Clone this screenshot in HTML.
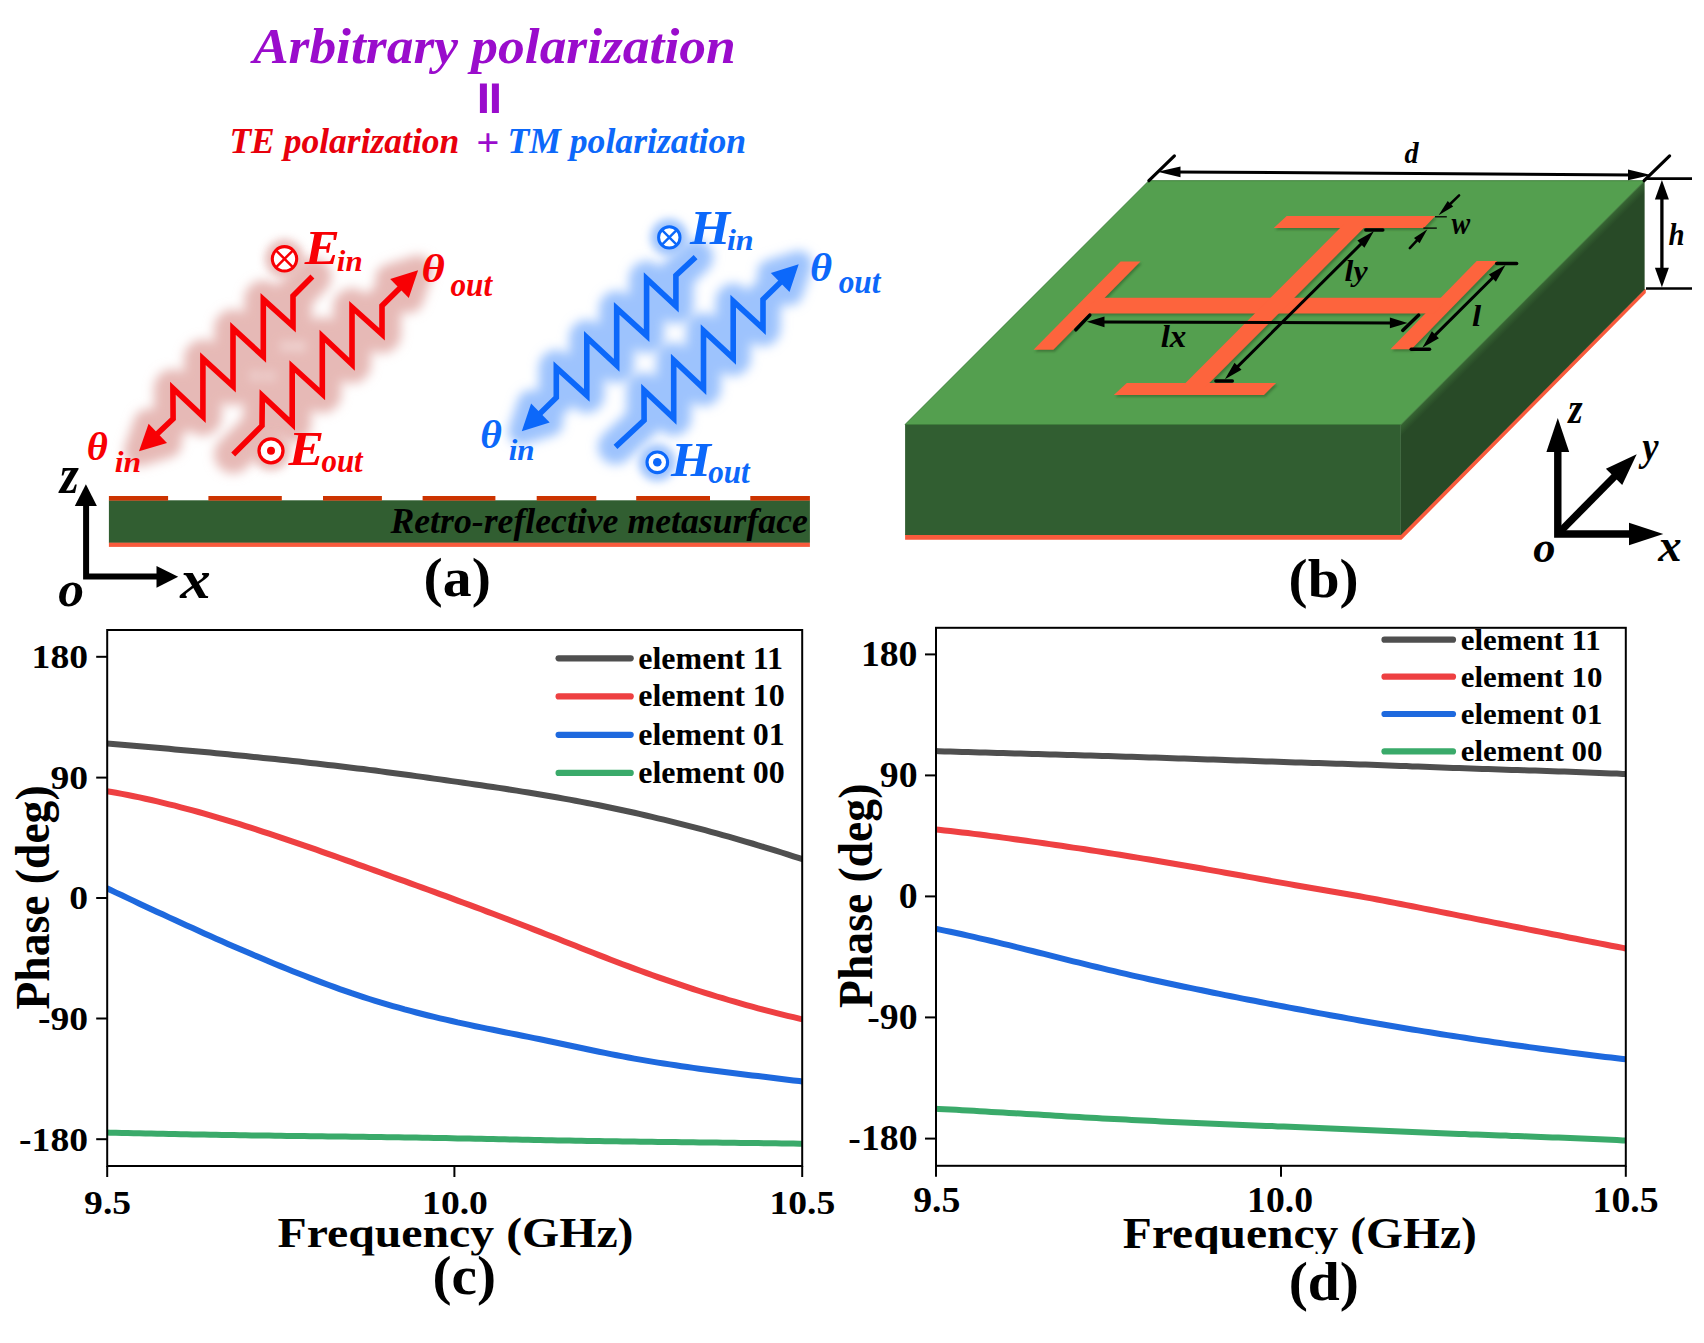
<!DOCTYPE html>
<html lang="en"><head><meta charset="utf-8"><title>Retro-reflective metasurface figure</title>
<style>
html,body{margin:0;padding:0;background:#fff;}
body{width:1704px;height:1343px;overflow:hidden;}
svg{display:block;}
svg text{font-family:"Liberation Serif", "Times New Roman", serif;}
</style></head><body>
<svg width="1704" height="1343" viewBox="0 0 1704 1343">
<defs>
<filter id="glow" x="-25%" y="-25%" width="150%" height="150%"><feGaussianBlur stdDeviation="5.5"/></filter>
<filter id="glow2" x="-60%" y="-60%" width="220%" height="220%"><feGaussianBlur stdDeviation="4.5"/></filter>
<filter id="shadow" x="-10%" y="-10%" width="120%" height="120%"><feGaussianBlur stdDeviation="1.2"/></filter>
<linearGradient id="rface" gradientUnits="userSpaceOnUse" x1="1512.7" y1="312.7" x2="1518.7" y2="318.7"><stop offset="0" stop-color="#376633"/><stop offset="1" stop-color="#284a27"/></linearGradient>
<clipPath id="clipc"><rect x="107.2" y="630" width="695" height="536"/></clipPath>
<clipPath id="clipd"><rect x="936" y="628" width="689.8" height="537.5"/></clipPath>
<clipPath id="clipxl"><rect x="0" y="1150" width="1704" height="105.6"/></clipPath>
<clipPath id="clipxl2"><rect x="0" y="1150" width="1704" height="104"/></clipPath>
</defs>
<rect width="1704" height="1343" fill="#fff"/>

<g id="panel-a">
<text transform="translate(252.91,63.20) scale(1.0414,1)" font-size="51.36" font-weight="bold" font-style="italic" fill="#9a0ccc" >Arbitrary polarization</text>
<rect x="479.9" y="83.5" width="7" height="29.5" fill="#9a0ccc"/><rect x="491.9" y="83.5" width="7" height="29.5" fill="#9a0ccc"/>
<text transform="translate(229.42,152.80) scale(1.0162,1)" font-size="34.96" font-weight="bold" font-style="italic" fill="#e8000c" >TE polarization</text>
<text transform="translate(476.15,155.59) scale(1.0000,1)" font-size="40.86" font-weight="bold" font-style="normal" fill="#9a0ccc" >+</text>
<text transform="translate(507.41,152.80) scale(1.0201,1)" font-size="34.96" font-weight="bold" font-style="italic" fill="#0c68fa" >TM polarization</text>
<g filter="url(#glow)" opacity="1" stroke="#e6b9b6" fill="#e6b9b6"><polyline points="312.4,276.6 293.0,296.0 293.0,326.3 263.3,299.4 263.3,356.4 233.0,328.5 233.0,386.2 202.9,358.6 202.9,416.6 172.9,388.2 173.1,418.7 156.3,434.7" fill="none" stroke-width="38" stroke-linejoin="round" stroke-linecap="round"/><polygon points="139.0,451.3 148.6,423.7 167.0,442.9" stroke-width="30" stroke-linejoin="round"/><polyline points="233.2,454.4 262.0,425.7 262.3,395.7 292.2,423.9 292.2,366.5 322.3,394.0 322.3,336.3 352.0,364.3 352.0,307.2 382.0,334.3 382.0,305.7 401.0,287.1" fill="none" stroke-width="38" stroke-linejoin="round" stroke-linecap="round"/><polygon points="418.1,270.3 408.8,298.0 390.2,279.0" stroke-width="30" stroke-linejoin="round"/></g>
<g filter="url(#glow)" opacity="1" stroke="#9dc3fd" fill="#9dc3fd"><polyline points="695.6,257.1 675.9,275.4 675.9,306.1 646.6,278.6 646.6,335.6 616.7,308.4 616.7,365.2 586.8,337.4 586.8,395.4 556.3,367.6 556.3,397.6 539.0,414.5" fill="none" stroke-width="35" stroke-linejoin="round" stroke-linecap="round"/><polygon points="521.8,431.2 531.1,403.5 549.7,422.6" stroke-width="27" stroke-linejoin="round"/><polyline points="615.5,446.9 644.1,420.4 644.0,390.3 673.7,418.3 673.7,360.2 703.5,388.4 703.5,330.6 733.2,358.4 733.2,301.1 763.0,328.6 763.0,299.5 781.6,281.2" fill="none" stroke-width="35" stroke-linejoin="round" stroke-linecap="round"/><polygon points="798.7,264.3 789.5,292.0 770.8,273.1" stroke-width="27" stroke-linejoin="round"/></g>
<circle cx="284.5" cy="258.85" r="19.5" fill="#e6b9b6" opacity="0.95" filter="url(#glow2)"/>
<circle cx="271.1" cy="451" r="19.5" fill="#e6b9b6" opacity="0.95" filter="url(#glow2)"/>
<circle cx="669.1" cy="237.4" r="18.5" fill="#9dc3fd" opacity="1" filter="url(#glow2)"/>
<circle cx="657.2" cy="462.6" r="18.5" fill="#9dc3fd" opacity="1" filter="url(#glow2)"/>
<polyline points="312.4,276.6 293.0,296.0 293.0,326.3 263.3,299.4 263.3,356.4 233.0,328.5 233.0,386.2 202.9,358.6 202.9,416.6 172.9,388.2 173.1,418.7 156.3,434.7" fill="none" stroke="#f80004" stroke-width="5.6" stroke-linejoin="miter" stroke-miterlimit="10"/><polygon points="139.0,451.3 148.6,423.7 167.0,442.9" fill="#f80004"/>
<polyline points="233.2,454.4 262.0,425.7 262.3,395.7 292.2,423.9 292.2,366.5 322.3,394.0 322.3,336.3 352.0,364.3 352.0,307.2 382.0,334.3 382.0,305.7 401.0,287.1" fill="none" stroke="#f80004" stroke-width="5.6" stroke-linejoin="miter" stroke-miterlimit="10"/><polygon points="418.1,270.3 408.8,298.0 390.2,279.0" fill="#f80004"/>
<polyline points="695.6,257.1 675.9,275.4 675.9,306.1 646.6,278.6 646.6,335.6 616.7,308.4 616.7,365.2 586.8,337.4 586.8,395.4 556.3,367.6 556.3,397.6 539.0,414.5" fill="none" stroke="#0c68fa" stroke-width="5.6" stroke-linejoin="miter" stroke-miterlimit="10"/><polygon points="521.8,431.2 531.1,403.5 549.7,422.6" fill="#0c68fa"/>
<polyline points="615.5,446.9 644.1,420.4 644.0,390.3 673.7,418.3 673.7,360.2 703.5,388.4 703.5,330.6 733.2,358.4 733.2,301.1 763.0,328.6 763.0,299.5 781.6,281.2" fill="none" stroke="#0c68fa" stroke-width="5.6" stroke-linejoin="miter" stroke-miterlimit="10"/><polygon points="798.7,264.3 789.5,292.0 770.8,273.1" fill="#0c68fa"/>
<circle cx="284.5" cy="258.85" r="12.2" fill="#fff" stroke="#f80004" stroke-width="3.1"/><path d="M276.0,250.3 L293.0,267.4 M276.0,267.4 L293.0,250.3" stroke="#f80004" stroke-width="2.5" fill="none"/>
<circle cx="271.0" cy="450.8" r="12.0" fill="#fff" stroke="#f80004" stroke-width="3.3"/><circle cx="271.0" cy="450.8" r="4.0" fill="#f80004"/>
<circle cx="669.3" cy="237.4" r="10.7" fill="#fff" stroke="#0c68fa" stroke-width="3.0"/><path d="M661.8,229.9 L676.8,244.9 M661.8,244.9 L676.8,229.9" stroke="#0c68fa" stroke-width="2.4" fill="none"/>
<circle cx="657.3" cy="462.3" r="10.3" fill="#fff" stroke="#0c68fa" stroke-width="3.1"/><circle cx="657.3" cy="462.3" r="4.3" fill="#0c68fa"/>
<text transform="translate(304.79,264.20) scale(1.0654,1)" font-size="49.31" font-weight="bold" font-style="italic" fill="#f80004" >E</text>
<text transform="translate(336.83,270.50) scale(1.0382,1)" font-size="29.78" font-weight="bold" font-style="italic" fill="#f80004" >in</text>
<text transform="translate(421.61,282.49) scale(1.1004,1)" font-size="40.85" font-weight="bold" font-style="italic" fill="#f80004" >θ</text>
<text transform="translate(450.43,295.77) scale(0.9495,1)" font-size="32.87" font-weight="bold" font-style="italic" fill="#f80004" >out</text>
<text transform="translate(86.78,460.10) scale(1.0197,1)" font-size="39.86" font-weight="bold" font-style="italic" fill="#f80004" >θ</text>
<text transform="translate(114.71,472.30) scale(1.0647,1)" font-size="29.78" font-weight="bold" font-style="italic" fill="#f80004" >in</text>
<text transform="translate(288.50,464.90) scale(1.0949,1)" font-size="48.85" font-weight="bold" font-style="italic" fill="#f80004" >E</text>
<text transform="translate(321.44,471.77) scale(0.9405,1)" font-size="32.87" font-weight="bold" font-style="italic" fill="#f80004" >out</text>
<text transform="translate(689.99,244.20) scale(1.0588,1)" font-size="48.85" font-weight="bold" font-style="italic" fill="#0c68fa" >H</text>
<text transform="translate(726.90,250.00) scale(1.0779,1)" font-size="29.78" font-weight="bold" font-style="italic" fill="#0c68fa" >in</text>
<text transform="translate(810.10,280.50) scale(1.0683,1)" font-size="39.86" font-weight="bold" font-style="italic" fill="#0c68fa" >θ</text>
<text transform="translate(838.63,293.37) scale(0.9518,1)" font-size="32.87" font-weight="bold" font-style="italic" fill="#0c68fa" >out</text>
<text transform="translate(480.34,447.50) scale(1.0430,1)" font-size="40.00" font-weight="bold" font-style="italic" fill="#0c68fa" >θ</text>
<text transform="translate(508.72,460.40) scale(1.0426,1)" font-size="29.78" font-weight="bold" font-style="italic" fill="#0c68fa" >in</text>
<text transform="translate(670.89,476.30) scale(1.0637,1)" font-size="48.40" font-weight="bold" font-style="italic" fill="#0c68fa" >H</text>
<text transform="translate(708.13,483.37) scale(0.9450,1)" font-size="32.87" font-weight="bold" font-style="italic" fill="#0c68fa" >out</text>
<rect x="108.9" y="500.3" width="701" height="42.6" fill="#315e31"/>
<rect x="108.9" y="542.7" width="701" height="4.2" fill="#f85a3c"/>
<rect x="108.9" y="496" width="59.2" height="4.6" fill="#cc3300"/>
<rect x="208.4" y="496" width="73.4" height="4.6" fill="#cc3300"/>
<rect x="323" y="496" width="58.9" height="4.6" fill="#cc3300"/>
<rect x="422.6" y="496" width="72.8" height="4.6" fill="#cc3300"/>
<rect x="536.7" y="496" width="59.6" height="4.6" fill="#cc3300"/>
<rect x="636.2" y="496" width="73.8" height="4.6" fill="#cc3300"/>
<rect x="750.3" y="496" width="59.6" height="4.6" fill="#cc3300"/>
<text transform="translate(390.39,533.00) scale(1.0086,1)" font-size="35.42" font-weight="bold" font-style="italic" fill="#000" >Retro-reflective metasurface</text>
<path d="M86.1,504 L86.1,576.5 L158,576.5" fill="none" stroke="#000" stroke-width="6" stroke-linejoin="miter"/>
<polygon points="85.9,484.2 74.8,506.0 96.9,506.0" fill="#000"/>
<polygon points="178.2,576.7 156.5,566.0 156.5,587.8" fill="#000"/>
<text transform="translate(59.85,492.50) scale(0.9010,1)" font-size="54.35" font-weight="bold" font-style="italic" fill="#000" >z</text>
<text transform="translate(180.16,597.90) scale(1.0947,1)" font-size="55.65" font-weight="bold" font-style="italic" fill="#000" >x</text>
<text transform="translate(58.33,605.79) scale(1.0142,1)" font-size="50.83" font-weight="bold" font-style="italic" fill="#000" >o</text>
<text transform="translate(423.54,596.43) scale(1.0701,1)" font-size="53.99" font-weight="bold" font-style="normal" fill="#000" >(a)</text>
</g>
<g id="panel-b">
<polygon points="905.1,534.1 1400.9,534.1 1644.6,289.0 1645.8,289.5 1645.8,293.0 1401.5,539.8 905.1,539.8" fill="#f85a3c"/>
<polygon points="905.1,424.5 1400.9,424.5 1400.9,535.1 905.1,535.1" fill="#315e31"/>
<polygon points="1400.9,424.5 1644.6,180.7 1644.6,289.5 1400.9,535.1" fill="url(#rface)"/>
<polygon points="1148.9,180.7 1644.6,180.7 1400.9,424.5 905.1,424.5" fill="#549f4f" stroke="#3f7f3c" stroke-width="1"/>
<g filter="url(#shadow)" opacity="0.55" transform="translate(1.5,2)"><polygon points="1286.7,216.1 1435.2,216.1 1423.9,228.1 1273.7,228.1" fill="#2d5a2a"/><polygon points="1126.8,383.0 1276.1,383.0 1264.0,394.9 1113.8,394.9" fill="#2d5a2a"/><polygon points="1120.6,261.4 1140.5,261.4 1053.4,349.8 1033.5,349.8" fill="#2d5a2a"/><polygon points="1476.7,261.0 1497.4,261.0 1411.4,349.3 1390.4,349.3" fill="#2d5a2a"/><polygon points="1097.5,297.7 1449.1,297.7 1433.8,313.6 1082.3,313.6" fill="#2d5a2a"/><polygon points="1344.1,224.1 1367.8,224.1 1205.3,387.0 1181.5,387.0" fill="#2d5a2a"/></g>
<polygon points="1286.7,216.1 1435.2,216.1 1423.9,228.1 1273.7,228.1" fill="#fd643d"/><polygon points="1126.8,383.0 1276.1,383.0 1264.0,394.9 1113.8,394.9" fill="#fd643d"/><polygon points="1120.6,261.4 1140.5,261.4 1053.4,349.8 1033.5,349.8" fill="#fd643d"/><polygon points="1476.7,261.0 1497.4,261.0 1411.4,349.3 1390.4,349.3" fill="#fd643d"/><polygon points="1097.5,297.7 1449.1,297.7 1433.8,313.6 1082.3,313.6" fill="#fd643d"/><polygon points="1344.1,224.1 1367.8,224.1 1205.3,387.0 1181.5,387.0" fill="#fd643d"/>
<line x1="1148.9" y1="180.7" x2="1174.4" y2="155.9" stroke="#000" stroke-width="3.2" stroke-linecap="round"/>
<line x1="1644.1" y1="180.7" x2="1669.6" y2="155.9" stroke="#000" stroke-width="3.2" stroke-linecap="round"/>
<line x1="1175.9" y1="171.9" x2="1632.6" y2="174.9" stroke="#000" stroke-width="3.0"/><polygon points="1157.5,171.8 1180.5,166.6 1180.5,177.2" fill="#000"/><polygon points="1651.0,175.0 1628.0,180.2 1628.0,169.6" fill="#000"/>
<text transform="translate(1404.55,163.40) scale(0.9334,1)" font-size="30.21" font-weight="bold" font-style="italic" fill="#000" >d</text>
<line x1="1646" y1="178.6" x2="1692" y2="178.6" stroke="#000" stroke-width="2.6" stroke-linecap="butt"/>
<line x1="1646" y1="288.5" x2="1692" y2="288.5" stroke="#000" stroke-width="2.6" stroke-linecap="butt"/>
<line x1="1661.9" y1="195.6" x2="1661.9" y2="271.6" stroke="#000" stroke-width="3.3"/><polygon points="1661.9,180.0 1668.9,199.5 1654.9,199.5" fill="#000"/><polygon points="1661.9,287.2 1654.9,267.7 1668.9,267.7" fill="#000"/>
<text transform="translate(1668.42,245.20) scale(0.9437,1)" font-size="30.65" font-weight="bold" font-style="italic" fill="#000" >h</text>
<line x1="1075.8" y1="329.8" x2="1089.8" y2="315.1" stroke="#000" stroke-width="3.5" stroke-linecap="round"/>
<line x1="1402.7" y1="330.4" x2="1418.7" y2="315.1" stroke="#000" stroke-width="3.5" stroke-linecap="round"/>
<line x1="1101.0" y1="321.9" x2="1393.4" y2="322.9" stroke="#000" stroke-width="3.0"/><polygon points="1086.9,321.8 1104.5,316.6 1104.5,327.2" fill="#000"/><polygon points="1407.5,323.0 1389.9,328.2 1389.9,317.6" fill="#000"/>
<text transform="translate(1160.66,347.40) scale(1.0574,1)" font-size="31.22" font-weight="bold" font-style="italic" fill="#000" >lx</text>
<line x1="1215.9" y1="380.9" x2="1232.3" y2="380.9" stroke="#000" stroke-width="3.5" stroke-linecap="round"/>
<line x1="1365.8" y1="230.1" x2="1382.8" y2="230.1" stroke="#000" stroke-width="3.5" stroke-linecap="round"/>
<line x1="1235.4" y1="368.9" x2="1363.5" y2="241.5" stroke="#000" stroke-width="3.0"/><polygon points="1224.9,379.3 1234.5,362.7 1241.5,369.8" fill="#000"/><polygon points="1374.0,231.1 1364.4,247.7 1357.4,240.6" fill="#000"/>
<text transform="translate(1344.59,281.48) scale(1.0466,1)" font-size="30.33" font-weight="bold" font-style="italic" fill="#000" >ly</text>
<line x1="1411.2" y1="349.3" x2="1429.5" y2="349.3" stroke="#000" stroke-width="3.5" stroke-linecap="round"/>
<line x1="1496.7" y1="263.4" x2="1516.6" y2="263.4" stroke="#000" stroke-width="3.5" stroke-linecap="round"/>
<line x1="1432.8" y1="337.4" x2="1495.0" y2="275.5" stroke="#000" stroke-width="3.0"/><polygon points="1422.3,347.8 1431.9,331.2 1438.9,338.3" fill="#000"/><polygon points="1505.5,265.1 1495.9,281.7 1488.9,274.6" fill="#000"/>
<text transform="translate(1472.06,325.80) scale(1.1563,1)" font-size="28.49" font-weight="bold" font-style="italic" fill="#000" >l</text>
<line x1="1435" y1="216.8" x2="1446.8" y2="216.8" stroke="#000" stroke-width="1.3" stroke-linecap="butt"/>
<line x1="1423.3" y1="228.1" x2="1436.8" y2="228.1" stroke="#000" stroke-width="1.3" stroke-linecap="butt"/>
<g stroke-linecap="round"><line x1="1459.1" y1="195.3" x2="1448.1" y2="206.0" stroke="#000" stroke-width="2.5"/><polygon points="1438.6,215.2 1447.7,200.9 1453.2,206.5" fill="#000"/><line x1="1409.8" y1="248.1" x2="1418.9" y2="238.4" stroke="#000" stroke-width="2.5"/><polygon points="1427.4,229.3 1419.6,243.2 1414.0,238.0" fill="#000"/></g>
<text transform="translate(1451.50,233.69) scale(0.8971,1)" font-size="31.28" font-weight="bold" font-style="italic" fill="#000" >w</text>
<path d="M1557.8,448 L1557.8,534 L1632,534" fill="none" stroke="#000" stroke-width="7.4" stroke-linejoin="miter"/>
<line x1="1557.8" y1="534" x2="1617" y2="474" stroke="#000" stroke-width="7.4"/>
<polygon points="1557.8,418.0 1546.4,452.0 1569.2,452.0" fill="#000"/>
<polygon points="1663.3,534.0 1629.0,522.8 1629.0,545.2" fill="#000"/>
<polygon points="1636.7,454.2 1622.2,485.0 1605.9,468.7" fill="#000"/>
<text transform="translate(1568.31,423.00) scale(0.8391,1)" font-size="43.91" font-weight="bold" font-style="italic" fill="#000" >z</text>
<text transform="translate(1642.17,460.29) scale(0.8665,1)" font-size="42.37" font-weight="bold" font-style="italic" fill="#000" >y</text>
<text transform="translate(1658.18,560.60) scale(1.0294,1)" font-size="45.43" font-weight="bold" font-style="italic" fill="#000" >x</text>
<text transform="translate(1533.33,562.06) scale(1.0207,1)" font-size="43.54" font-weight="bold" font-style="italic" fill="#000" >o</text>
<text transform="translate(1288.56,597.07) scale(1.0383,1)" font-size="55.21" font-weight="bold" font-style="normal" fill="#000" >(b)</text>
</g>
<g id="panel-c">
<polyline points="104.2,743.4 110.1,743.8 116.0,744.3 121.9,744.8 127.8,745.3 133.7,745.8 139.5,746.3 145.4,746.8 151.3,747.3 157.2,747.8 163.1,748.3 169.0,748.8 174.9,749.4 180.8,749.9 186.7,750.4 192.6,751.0 198.5,751.5 204.3,752.1 210.2,752.6 216.1,753.2 222.0,753.7 227.9,754.3 233.8,754.9 239.7,755.5 245.6,756.1 251.5,756.7 257.4,757.3 263.3,757.9 269.1,758.5 275.0,759.1 280.9,759.7 286.8,760.3 292.7,761.0 298.6,761.6 304.5,762.2 310.4,762.9 316.3,763.6 322.2,764.2 328.0,764.9 333.9,765.6 339.8,766.3 345.7,767.0 351.6,767.7 357.5,768.4 363.4,769.1 369.3,769.9 375.2,770.6 381.1,771.4 387.0,772.2 392.8,772.9 398.7,773.7 404.6,774.5 410.5,775.3 416.4,776.1 422.3,776.9 428.2,777.8 434.1,778.6 440.0,779.4 445.9,780.2 451.8,781.1 457.6,781.9 463.5,782.8 469.4,783.6 475.3,784.5 481.2,785.3 487.1,786.2 493.0,787.0 498.9,787.9 504.8,788.8 510.7,789.7 516.6,790.6 522.4,791.6 528.3,792.5 534.2,793.5 540.1,794.5 546.0,795.5 551.9,796.5 557.8,797.5 563.7,798.6 569.6,799.6 575.5,800.7 581.4,801.9 587.2,803.0 593.1,804.1 599.0,805.3 604.9,806.5 610.8,807.7 616.7,809.0 622.6,810.2 628.5,811.5 634.4,812.8 640.3,814.2 646.1,815.5 652.0,816.9 657.9,818.3 663.8,819.7 669.7,821.1 675.6,822.6 681.5,824.1 687.4,825.6 693.3,827.1 699.2,828.7 705.1,830.2 710.9,831.8 716.8,833.4 722.7,835.1 728.6,836.7 734.5,838.4 740.4,840.1 746.3,841.8 752.2,843.5 758.1,845.3 764.0,847.1 769.9,848.9 775.7,850.7 781.6,852.5 787.5,854.4 793.4,856.3 799.3,858.2 805.2,860.1" fill="none" stroke="#4f4f4f" stroke-width="6" clip-path="url(#clipc)"/>
<polyline points="104.2,790.7 110.1,791.7 116.0,792.8 121.9,793.9 127.8,795.0 133.7,796.2 139.5,797.4 145.4,798.7 151.3,800.0 157.2,801.4 163.1,802.8 169.0,804.3 174.9,805.7 180.8,807.3 186.7,808.8 192.6,810.4 198.5,812.0 204.3,813.7 210.2,815.4 216.1,817.1 222.0,818.8 227.9,820.6 233.8,822.4 239.7,824.2 245.6,826.1 251.5,827.9 257.4,829.8 263.3,831.8 269.1,833.7 275.0,835.6 280.9,837.6 286.8,839.6 292.7,841.6 298.6,843.6 304.5,845.6 310.4,847.7 316.3,849.7 322.2,851.8 328.0,853.9 333.9,855.9 339.8,858.0 345.7,860.1 351.6,862.2 357.5,864.3 363.4,866.4 369.3,868.5 375.2,870.6 381.1,872.8 387.0,874.9 392.8,877.0 398.7,879.1 404.6,881.2 410.5,883.4 416.4,885.5 422.3,887.6 428.2,889.8 434.1,891.9 440.0,894.1 445.9,896.2 451.8,898.4 457.6,900.6 463.5,902.8 469.4,904.9 475.3,907.1 481.2,909.3 487.1,911.6 493.0,913.8 498.9,916.0 504.8,918.2 510.7,920.5 516.6,922.7 522.4,925.0 528.3,927.3 534.2,929.6 540.1,931.9 546.0,934.2 551.9,936.5 557.8,938.8 563.7,941.2 569.6,943.5 575.5,945.8 581.4,948.2 587.2,950.5 593.1,952.8 599.0,955.1 604.9,957.4 610.8,959.7 616.7,962.0 622.6,964.2 628.5,966.4 634.4,968.6 640.3,970.8 646.1,972.9 652.0,975.0 657.9,977.1 663.8,979.2 669.7,981.2 675.6,983.2 681.5,985.2 687.4,987.1 693.3,989.1 699.2,991.0 705.1,992.8 710.9,994.7 716.8,996.5 722.7,998.2 728.6,1000.0 734.5,1001.7 740.4,1003.4 746.3,1005.1 752.2,1006.7 758.1,1008.3 764.0,1009.9 769.9,1011.4 775.7,1012.9 781.6,1014.4 787.5,1015.8 793.4,1017.2 799.3,1018.6 805.2,1020.0" fill="none" stroke="#ee4042" stroke-width="6" clip-path="url(#clipc)"/>
<polyline points="104.2,887.0 110.1,889.8 116.0,892.6 121.9,895.3 127.8,898.1 133.7,900.9 139.5,903.7 145.4,906.4 151.3,909.2 157.2,911.9 163.1,914.6 169.0,917.4 174.9,920.1 180.8,922.8 186.7,925.5 192.6,928.1 198.5,930.8 204.3,933.5 210.2,936.1 216.1,938.7 222.0,941.3 227.9,943.9 233.8,946.5 239.7,949.1 245.6,951.6 251.5,954.1 257.4,956.6 263.3,959.1 269.1,961.6 275.0,964.0 280.9,966.4 286.8,968.8 292.7,971.2 298.6,973.5 304.5,975.8 310.4,978.1 316.3,980.4 322.2,982.6 328.0,984.8 333.9,986.9 339.8,989.1 345.7,991.1 351.6,993.2 357.5,995.1 363.4,997.1 369.3,999.0 375.2,1000.8 381.1,1002.6 387.0,1004.4 392.8,1006.1 398.7,1007.7 404.6,1009.4 410.5,1010.9 416.4,1012.5 422.3,1014.0 428.2,1015.5 434.1,1016.9 440.0,1018.3 445.9,1019.7 451.8,1021.0 457.6,1022.4 463.5,1023.6 469.4,1024.9 475.3,1026.2 481.2,1027.4 487.1,1028.6 493.0,1029.8 498.9,1031.0 504.8,1032.2 510.7,1033.4 516.6,1034.5 522.4,1035.7 528.3,1036.9 534.2,1038.1 540.1,1039.3 546.0,1040.5 551.9,1041.8 557.8,1043.0 563.7,1044.3 569.6,1045.5 575.5,1046.8 581.4,1048.0 587.2,1049.3 593.1,1050.5 599.0,1051.7 604.9,1052.9 610.8,1054.1 616.7,1055.3 622.6,1056.4 628.5,1057.5 634.4,1058.6 640.3,1059.6 646.1,1060.6 652.0,1061.6 657.9,1062.6 663.8,1063.5 669.7,1064.4 675.6,1065.3 681.5,1066.2 687.4,1067.0 693.3,1067.9 699.2,1068.7 705.1,1069.5 710.9,1070.2 716.8,1071.0 722.7,1071.8 728.6,1072.5 734.5,1073.2 740.4,1074.0 746.3,1074.7 752.2,1075.4 758.1,1076.1 764.0,1076.8 769.9,1077.5 775.7,1078.3 781.6,1079.0 787.5,1079.7 793.4,1080.4 799.3,1081.1 805.2,1081.9" fill="none" stroke="#1e69de" stroke-width="6" clip-path="url(#clipc)"/>
<polyline points="104.2,1132.5 110.1,1132.7 116.0,1132.8 121.9,1132.9 127.8,1133.1 133.7,1133.2 139.5,1133.3 145.4,1133.4 151.3,1133.6 157.2,1133.7 163.1,1133.8 169.0,1133.9 174.9,1134.0 180.8,1134.2 186.7,1134.3 192.6,1134.4 198.5,1134.5 204.3,1134.6 210.2,1134.7 216.1,1134.8 222.0,1134.9 227.9,1135.0 233.8,1135.1 239.7,1135.2 245.6,1135.3 251.5,1135.4 257.4,1135.5 263.3,1135.6 269.1,1135.6 275.0,1135.7 280.9,1135.8 286.8,1135.9 292.7,1136.0 298.6,1136.0 304.5,1136.1 310.4,1136.2 316.3,1136.3 322.2,1136.3 328.0,1136.4 333.9,1136.5 339.8,1136.5 345.7,1136.6 351.6,1136.7 357.5,1136.8 363.4,1136.8 369.3,1136.9 375.2,1137.0 381.1,1137.1 387.0,1137.2 392.8,1137.3 398.7,1137.3 404.6,1137.4 410.5,1137.5 416.4,1137.6 422.3,1137.7 428.2,1137.8 434.1,1137.9 440.0,1138.0 445.9,1138.1 451.8,1138.2 457.6,1138.4 463.5,1138.5 469.4,1138.6 475.3,1138.7 481.2,1138.8 487.1,1139.0 493.0,1139.1 498.9,1139.2 504.8,1139.3 510.7,1139.5 516.6,1139.6 522.4,1139.7 528.3,1139.8 534.2,1140.0 540.1,1140.1 546.0,1140.2 551.9,1140.3 557.8,1140.4 563.7,1140.5 569.6,1140.6 575.5,1140.7 581.4,1140.8 587.2,1140.9 593.1,1141.0 599.0,1141.1 604.9,1141.2 610.8,1141.3 616.7,1141.3 622.6,1141.4 628.5,1141.5 634.4,1141.6 640.3,1141.7 646.1,1141.7 652.0,1141.8 657.9,1141.9 663.8,1142.0 669.7,1142.0 675.6,1142.1 681.5,1142.2 687.4,1142.3 693.3,1142.3 699.2,1142.4 705.1,1142.5 710.9,1142.5 716.8,1142.6 722.7,1142.7 728.6,1142.8 734.5,1142.8 740.4,1142.9 746.3,1143.0 752.2,1143.1 758.1,1143.1 764.0,1143.2 769.9,1143.3 775.7,1143.3 781.6,1143.4 787.5,1143.5 793.4,1143.6 799.3,1143.7 805.2,1143.7" fill="none" stroke="#3aaa6a" stroke-width="6" clip-path="url(#clipc)"/>
<rect x="107.2" y="630" width="695.0" height="536.0" fill="none" stroke="#000" stroke-width="2"/>
<line x1="96.2" y1="656.8" x2="107.2" y2="656.8" stroke="#000" stroke-width="2"/>
<text transform="translate(31.59,668.20) scale(1.0896,1)" font-size="34.52" font-weight="bold" font-style="normal" fill="#000" >180</text>
<line x1="96.2" y1="777.6" x2="107.2" y2="777.6" stroke="#000" stroke-width="2"/>
<text transform="translate(50.40,789.00) scale(1.0896,1)" font-size="34.52" font-weight="bold" font-style="normal" fill="#000" >90</text>
<line x1="96.2" y1="898.0" x2="107.2" y2="898.0" stroke="#000" stroke-width="2"/>
<text transform="translate(69.20,909.40) scale(1.0896,1)" font-size="34.52" font-weight="bold" font-style="normal" fill="#000" >0</text>
<line x1="96.2" y1="1018.5" x2="107.2" y2="1018.5" stroke="#000" stroke-width="2"/>
<text transform="translate(37.89,1029.90) scale(1.0896,1)" font-size="34.52" font-weight="bold" font-style="normal" fill="#000" >-90</text>
<line x1="96.2" y1="1139.2" x2="107.2" y2="1139.2" stroke="#000" stroke-width="2"/>
<text transform="translate(19.08,1150.60) scale(1.0896,1)" font-size="34.52" font-weight="bold" font-style="normal" fill="#000" >-180</text>
<line x1="107.2" y1="1166" x2="107.2" y2="1177" stroke="#000" stroke-width="2"/>
<text transform="translate(84.08,1213.50) scale(1.0896,1)" font-size="34.52" font-weight="bold" font-style="normal" fill="#000" >9.5</text>
<line x1="454.4" y1="1166" x2="454.4" y2="1177" stroke="#000" stroke-width="2"/>
<text transform="translate(422.09,1213.50) scale(1.0896,1)" font-size="34.52" font-weight="bold" font-style="normal" fill="#000" >10.0</text>
<line x1="802.2" y1="1166" x2="802.2" y2="1177" stroke="#000" stroke-width="2"/>
<text transform="translate(769.49,1213.50) scale(1.0896,1)" font-size="34.52" font-weight="bold" font-style="normal" fill="#000" >10.5</text>
<line x1="558.6" y1="658.3" x2="630.7" y2="658.3" stroke="#4f4f4f" stroke-width="6.2" stroke-linecap="round"/>
<text transform="translate(638.28,668.60) scale(1.0254,1)" font-size="31.21" font-weight="bold" font-style="normal" fill="#000" >element 11</text>
<line x1="558.6" y1="696.4" x2="630.7" y2="696.4" stroke="#ee4042" stroke-width="6.2" stroke-linecap="round"/>
<text transform="translate(638.28,706.40) scale(1.0254,1)" font-size="31.21" font-weight="bold" font-style="normal" fill="#000" >element 10</text>
<line x1="558.6" y1="734.8" x2="630.7" y2="734.8" stroke="#1e69de" stroke-width="6.2" stroke-linecap="round"/>
<text transform="translate(638.28,744.50) scale(1.0254,1)" font-size="31.21" font-weight="bold" font-style="normal" fill="#000" >element 01</text>
<line x1="558.6" y1="772.9" x2="630.7" y2="772.9" stroke="#3aaa6a" stroke-width="6.2" stroke-linecap="round"/>
<text transform="translate(638.28,782.80) scale(1.0254,1)" font-size="31.21" font-weight="bold" font-style="normal" fill="#000" >element 00</text>
<g clip-path="url(#clipxl)"><text transform="translate(277.46,1247.00) scale(1.1101,1)" font-size="43.05" font-weight="bold" font-style="normal" fill="#000" >Frequency (GHz)</text></g>
<text transform="translate(48.60,1008.80) rotate(-90) scale(0.9338,1)" x="-0.85" y="0" font-size="48.85" font-weight="bold">Phase (deg)</text>
<text transform="translate(432.47,1294.06) scale(1.0542,1)" font-size="54.33" font-weight="bold" font-style="normal" fill="#000" >(c)</text>
</g>
<g id="panel-d">
<polyline points="932.9,751.0 938.7,751.2 944.6,751.4 950.4,751.5 956.3,751.7 962.1,751.9 968.0,752.1 973.8,752.2 979.7,752.4 985.5,752.6 991.4,752.7 997.2,752.9 1003.1,753.1 1008.9,753.2 1014.7,753.4 1020.6,753.6 1026.4,753.7 1032.3,753.9 1038.1,754.0 1044.0,754.2 1049.8,754.4 1055.7,754.5 1061.5,754.7 1067.4,754.9 1073.2,755.0 1079.1,755.2 1084.9,755.4 1090.7,755.6 1096.6,755.7 1102.4,755.9 1108.3,756.1 1114.1,756.3 1120.0,756.5 1125.8,756.7 1131.7,756.8 1137.5,757.0 1143.4,757.2 1149.2,757.4 1155.1,757.6 1160.9,757.8 1166.7,758.0 1172.6,758.2 1178.4,758.4 1184.3,758.6 1190.1,758.8 1196.0,759.0 1201.8,759.2 1207.7,759.4 1213.5,759.6 1219.4,759.8 1225.2,760.0 1231.1,760.2 1236.9,760.4 1242.7,760.6 1248.6,760.8 1254.4,761.0 1260.3,761.2 1266.1,761.4 1272.0,761.6 1277.8,761.8 1283.7,762.0 1289.5,762.2 1295.4,762.4 1301.2,762.5 1307.1,762.7 1312.9,762.9 1318.8,763.1 1324.6,763.3 1330.4,763.5 1336.3,763.7 1342.1,763.8 1348.0,764.0 1353.8,764.2 1359.7,764.4 1365.5,764.6 1371.4,764.8 1377.2,765.1 1383.1,765.3 1388.9,765.5 1394.8,765.7 1400.6,765.9 1406.4,766.1 1412.3,766.4 1418.1,766.6 1424.0,766.8 1429.8,767.0 1435.7,767.2 1441.5,767.5 1447.4,767.7 1453.2,767.9 1459.1,768.1 1464.9,768.3 1470.8,768.5 1476.6,768.7 1482.4,768.9 1488.3,769.1 1494.1,769.3 1500.0,769.5 1505.8,769.7 1511.7,769.9 1517.5,770.1 1523.4,770.2 1529.2,770.4 1535.1,770.6 1540.9,770.8 1546.8,771.0 1552.6,771.2 1558.4,771.4 1564.3,771.6 1570.1,771.8 1576.0,772.0 1581.8,772.3 1587.7,772.5 1593.5,772.7 1599.4,772.9 1605.2,773.2 1611.1,773.4 1616.9,773.6 1622.8,773.9 1628.6,774.1" fill="none" stroke="#4f4f4f" stroke-width="6" clip-path="url(#clipd)"/>
<polyline points="932.9,829.1 938.7,829.7 944.6,830.4 950.4,831.1 956.3,831.7 962.1,832.4 968.0,833.1 973.8,833.9 979.7,834.6 985.5,835.3 991.4,836.1 997.2,836.8 1003.1,837.6 1008.9,838.4 1014.7,839.2 1020.6,840.0 1026.4,840.8 1032.3,841.6 1038.1,842.4 1044.0,843.3 1049.8,844.1 1055.7,845.0 1061.5,845.8 1067.4,846.7 1073.2,847.6 1079.1,848.4 1084.9,849.3 1090.7,850.2 1096.6,851.1 1102.4,852.0 1108.3,853.0 1114.1,853.9 1120.0,854.8 1125.8,855.7 1131.7,856.7 1137.5,857.6 1143.4,858.6 1149.2,859.5 1155.1,860.5 1160.9,861.5 1166.7,862.5 1172.6,863.5 1178.4,864.5 1184.3,865.5 1190.1,866.5 1196.0,867.5 1201.8,868.5 1207.7,869.6 1213.5,870.6 1219.4,871.6 1225.2,872.7 1231.1,873.7 1236.9,874.8 1242.7,875.8 1248.6,876.9 1254.4,877.9 1260.3,879.0 1266.1,880.0 1272.0,881.1 1277.8,882.1 1283.7,883.1 1289.5,884.1 1295.4,885.2 1301.2,886.2 1307.1,887.2 1312.9,888.2 1318.8,889.2 1324.6,890.2 1330.4,891.2 1336.3,892.2 1342.1,893.2 1348.0,894.2 1353.8,895.3 1359.7,896.3 1365.5,897.4 1371.4,898.4 1377.2,899.5 1383.1,900.6 1388.9,901.7 1394.8,902.9 1400.6,904.0 1406.4,905.1 1412.3,906.3 1418.1,907.4 1424.0,908.6 1429.8,909.7 1435.7,910.9 1441.5,912.1 1447.4,913.2 1453.2,914.4 1459.1,915.6 1464.9,916.7 1470.8,917.9 1476.6,919.1 1482.4,920.2 1488.3,921.4 1494.1,922.6 1500.0,923.7 1505.8,924.9 1511.7,926.1 1517.5,927.2 1523.4,928.4 1529.2,929.6 1535.1,930.7 1540.9,931.9 1546.8,933.0 1552.6,934.2 1558.4,935.3 1564.3,936.5 1570.1,937.7 1576.0,938.8 1581.8,940.0 1587.7,941.1 1593.5,942.2 1599.4,943.4 1605.2,944.5 1611.1,945.7 1616.9,946.8 1622.8,947.9 1628.6,949.1" fill="none" stroke="#ee4042" stroke-width="6" clip-path="url(#clipd)"/>
<polyline points="932.9,928.2 938.7,929.4 944.6,930.6 950.4,931.8 956.3,933.0 962.1,934.3 968.0,935.6 973.8,936.9 979.7,938.3 985.5,939.6 991.4,941.0 997.2,942.4 1003.1,943.8 1008.9,945.2 1014.7,946.7 1020.6,948.1 1026.4,949.6 1032.3,951.0 1038.1,952.5 1044.0,953.9 1049.8,955.4 1055.7,956.9 1061.5,958.3 1067.4,959.8 1073.2,961.3 1079.1,962.7 1084.9,964.2 1090.7,965.6 1096.6,967.0 1102.4,968.4 1108.3,969.8 1114.1,971.2 1120.0,972.6 1125.8,973.9 1131.7,975.3 1137.5,976.6 1143.4,977.9 1149.2,979.2 1155.1,980.5 1160.9,981.7 1166.7,983.0 1172.6,984.2 1178.4,985.5 1184.3,986.7 1190.1,987.9 1196.0,989.1 1201.8,990.3 1207.7,991.5 1213.5,992.7 1219.4,993.9 1225.2,995.1 1231.1,996.2 1236.9,997.4 1242.7,998.6 1248.6,999.7 1254.4,1000.8 1260.3,1002.0 1266.1,1003.1 1272.0,1004.2 1277.8,1005.4 1283.7,1006.5 1289.5,1007.6 1295.4,1008.7 1301.2,1009.8 1307.1,1010.9 1312.9,1012.0 1318.8,1013.1 1324.6,1014.1 1330.4,1015.2 1336.3,1016.3 1342.1,1017.3 1348.0,1018.4 1353.8,1019.4 1359.7,1020.5 1365.5,1021.5 1371.4,1022.5 1377.2,1023.5 1383.1,1024.5 1388.9,1025.5 1394.8,1026.5 1400.6,1027.5 1406.4,1028.5 1412.3,1029.5 1418.1,1030.4 1424.0,1031.4 1429.8,1032.3 1435.7,1033.3 1441.5,1034.2 1447.4,1035.1 1453.2,1036.0 1459.1,1036.9 1464.9,1037.8 1470.8,1038.7 1476.6,1039.6 1482.4,1040.5 1488.3,1041.3 1494.1,1042.2 1500.0,1043.0 1505.8,1043.9 1511.7,1044.7 1517.5,1045.5 1523.4,1046.3 1529.2,1047.1 1535.1,1047.9 1540.9,1048.7 1546.8,1049.5 1552.6,1050.3 1558.4,1051.0 1564.3,1051.8 1570.1,1052.6 1576.0,1053.3 1581.8,1054.0 1587.7,1054.8 1593.5,1055.5 1599.4,1056.2 1605.2,1056.9 1611.1,1057.6 1616.9,1058.3 1622.8,1059.0 1628.6,1059.6" fill="none" stroke="#1e69de" stroke-width="6" clip-path="url(#clipd)"/>
<polyline points="932.9,1108.5 938.7,1108.9 944.6,1109.2 950.4,1109.5 956.3,1109.8 962.1,1110.2 968.0,1110.5 973.8,1110.8 979.7,1111.2 985.5,1111.5 991.4,1111.9 997.2,1112.2 1003.1,1112.6 1008.9,1112.9 1014.7,1113.3 1020.6,1113.6 1026.4,1114.0 1032.3,1114.3 1038.1,1114.6 1044.0,1115.0 1049.8,1115.3 1055.7,1115.7 1061.5,1116.0 1067.4,1116.4 1073.2,1116.7 1079.1,1117.0 1084.9,1117.4 1090.7,1117.7 1096.6,1118.0 1102.4,1118.4 1108.3,1118.7 1114.1,1119.0 1120.0,1119.3 1125.8,1119.6 1131.7,1119.9 1137.5,1120.2 1143.4,1120.5 1149.2,1120.8 1155.1,1121.1 1160.9,1121.4 1166.7,1121.7 1172.6,1122.0 1178.4,1122.3 1184.3,1122.5 1190.1,1122.8 1196.0,1123.0 1201.8,1123.3 1207.7,1123.6 1213.5,1123.8 1219.4,1124.0 1225.2,1124.3 1231.1,1124.5 1236.9,1124.7 1242.7,1125.0 1248.6,1125.2 1254.4,1125.4 1260.3,1125.7 1266.1,1125.9 1272.0,1126.1 1277.8,1126.4 1283.7,1126.6 1289.5,1126.8 1295.4,1127.1 1301.2,1127.3 1307.1,1127.6 1312.9,1127.8 1318.8,1128.0 1324.6,1128.3 1330.4,1128.5 1336.3,1128.8 1342.1,1129.0 1348.0,1129.3 1353.8,1129.5 1359.7,1129.8 1365.5,1130.0 1371.4,1130.3 1377.2,1130.5 1383.1,1130.8 1388.9,1131.0 1394.8,1131.3 1400.6,1131.5 1406.4,1131.8 1412.3,1132.0 1418.1,1132.3 1424.0,1132.5 1429.8,1132.7 1435.7,1133.0 1441.5,1133.2 1447.4,1133.5 1453.2,1133.7 1459.1,1133.9 1464.9,1134.1 1470.8,1134.4 1476.6,1134.6 1482.4,1134.8 1488.3,1135.0 1494.1,1135.2 1500.0,1135.4 1505.8,1135.6 1511.7,1135.9 1517.5,1136.1 1523.4,1136.3 1529.2,1136.5 1535.1,1136.7 1540.9,1136.9 1546.8,1137.2 1552.6,1137.4 1558.4,1137.6 1564.3,1137.8 1570.1,1138.1 1576.0,1138.3 1581.8,1138.5 1587.7,1138.8 1593.5,1139.0 1599.4,1139.3 1605.2,1139.5 1611.1,1139.8 1616.9,1140.1 1622.8,1140.4 1628.6,1140.6" fill="none" stroke="#3aaa6a" stroke-width="6" clip-path="url(#clipd)"/>
<rect x="936" y="627.8" width="689.8" height="538.0" fill="none" stroke="#000" stroke-width="2"/>
<line x1="925" y1="654.4" x2="936" y2="654.4" stroke="#000" stroke-width="2"/>
<text transform="translate(860.88,666.00) scale(1.0709,1)" font-size="35.26" font-weight="bold" font-style="normal" fill="#000" >180</text>
<line x1="925" y1="775.4" x2="936" y2="775.4" stroke="#000" stroke-width="2"/>
<text transform="translate(879.76,787.00) scale(1.0709,1)" font-size="35.26" font-weight="bold" font-style="normal" fill="#000" >90</text>
<line x1="925" y1="896.4" x2="936" y2="896.4" stroke="#000" stroke-width="2"/>
<text transform="translate(898.64,908.00) scale(1.0709,1)" font-size="35.26" font-weight="bold" font-style="normal" fill="#000" >0</text>
<line x1="925" y1="1017.4" x2="936" y2="1017.4" stroke="#000" stroke-width="2"/>
<text transform="translate(867.20,1029.00) scale(1.0709,1)" font-size="35.26" font-weight="bold" font-style="normal" fill="#000" >-90</text>
<line x1="925" y1="1138.6" x2="936" y2="1138.6" stroke="#000" stroke-width="2"/>
<text transform="translate(848.32,1150.20) scale(1.0709,1)" font-size="35.26" font-weight="bold" font-style="normal" fill="#000" >-180</text>
<line x1="936" y1="1165.8" x2="936" y2="1176.8" stroke="#000" stroke-width="2"/>
<text transform="translate(913.19,1212.30) scale(1.0709,1)" font-size="35.26" font-weight="bold" font-style="normal" fill="#000" >9.5</text>
<line x1="1281" y1="1165.8" x2="1281" y2="1176.8" stroke="#000" stroke-width="2"/>
<text transform="translate(1247.06,1212.30) scale(1.0709,1)" font-size="35.26" font-weight="bold" font-style="normal" fill="#000" >10.0</text>
<line x1="1625.8" y1="1165.8" x2="1625.8" y2="1176.8" stroke="#000" stroke-width="2"/>
<text transform="translate(1592.56,1212.30) scale(1.0709,1)" font-size="35.26" font-weight="bold" font-style="normal" fill="#000" >10.5</text>
<line x1="1384.5" y1="639.7" x2="1453" y2="639.7" stroke="#4f4f4f" stroke-width="6.2" stroke-linecap="round"/>
<text transform="translate(1460.82,649.60) scale(1.0513,1)" font-size="29.39" font-weight="bold" font-style="normal" fill="#000" >element 11</text>
<line x1="1384.5" y1="676.7" x2="1453" y2="676.7" stroke="#ee4042" stroke-width="6.2" stroke-linecap="round"/>
<text transform="translate(1460.82,686.50) scale(1.0513,1)" font-size="29.39" font-weight="bold" font-style="normal" fill="#000" >element 10</text>
<line x1="1384.5" y1="714" x2="1453" y2="714" stroke="#1e69de" stroke-width="6.2" stroke-linecap="round"/>
<text transform="translate(1460.82,723.80) scale(1.0513,1)" font-size="29.39" font-weight="bold" font-style="normal" fill="#000" >element 01</text>
<line x1="1384.5" y1="751.4" x2="1453" y2="751.4" stroke="#3aaa6a" stroke-width="6.2" stroke-linecap="round"/>
<text transform="translate(1460.82,761.30) scale(1.0513,1)" font-size="29.39" font-weight="bold" font-style="normal" fill="#000" >element 00</text>
<g clip-path="url(#clipxl2)"><text transform="translate(1122.87,1248.40) scale(1.0954,1)" font-size="43.36" font-weight="bold" font-style="normal" fill="#000" >Frequency (GHz)</text></g>
<text transform="translate(872.20,1007.10) rotate(-90) scale(0.9223,1)" x="-0.87" y="0" font-size="49.47" font-weight="bold">Phase (deg)</text>
<text transform="translate(1288.65,1299.50) scale(1.0643,1)" font-size="54.10" font-weight="bold" font-style="normal" fill="#000" >(d)</text>
</g>
</svg></body></html>
